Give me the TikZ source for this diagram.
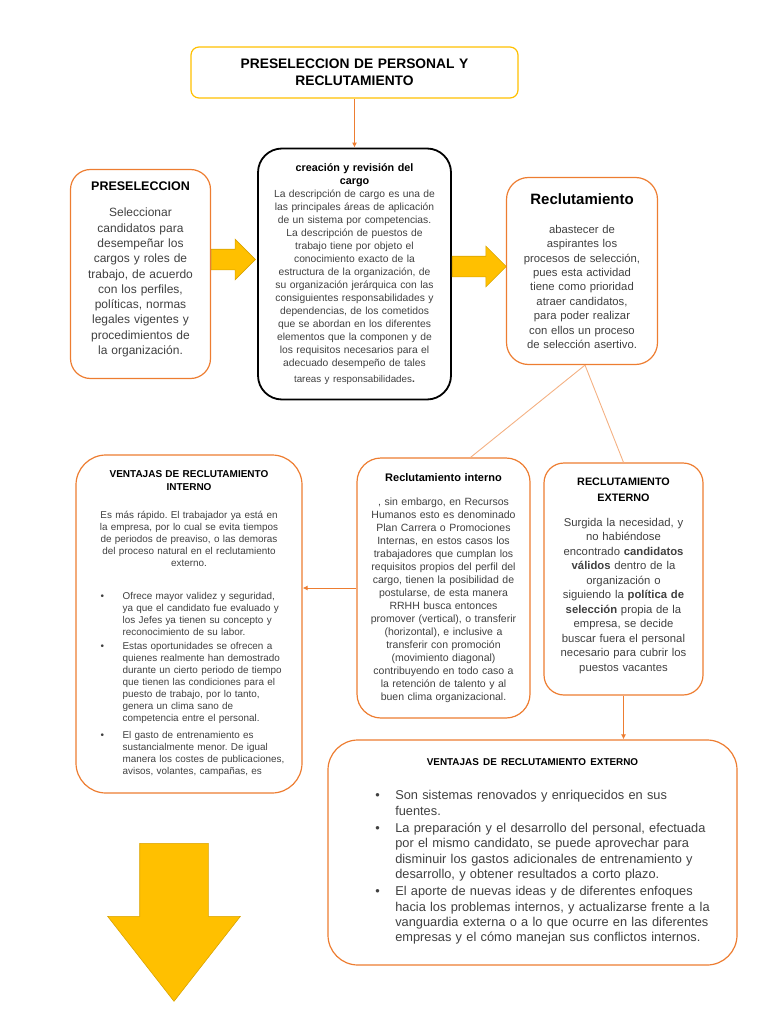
\documentclass[tikz,border=0pt]{standalone}
\usepackage{fontspec}
\setmainfont{Liberation Sans}
\usetikzlibrary{positioning,shapes.arrows,arrows.meta,calc}

\definecolor{boxorange}{HTML}{ED7D31}
\definecolor{linkorange}{HTML}{F4B183}
\definecolor{titlegold}{HTML}{FFC000}
\definecolor{arrowgold}{HTML}{FFC000}
\definecolor{arrowedge}{HTML}{D9A300}
\definecolor{bodygray}{HTML}{404040}

\newcommand{\fsz}[2]{\fontsize{#1}{#2}\selectfont}
\frenchspacing

\begin{document}
\begin{tikzpicture}[x=1pt, y=-1pt,
  titlenode/.style={rectangle, rounded corners=8pt, draw=titlegold, line width=1.2pt, minimum width=327pt, minimum height=51pt, text width=320pt, align=center, inner sep=3pt},
  orangenode/.style={rectangle, rounded corners=20pt, draw=boxorange, line width=1.2pt, align=center, inner sep=3pt, text=bodygray},
  blacknode/.style={rectangle, rounded corners=24pt, draw=black, line width=1.8pt, align=center, inner sep=3pt, text=bodygray},
  yellowarrow/.style={single arrow, draw=arrowedge, fill=arrowgold, line width=0.6pt, inner xsep=0pt, inner ysep=10pt, single arrow head extend=10pt},
  link/.style={draw=linkorange, line width=0.9pt},
  pointer/.style={draw=boxorange, line width=1pt, -{Latex[length=5pt,width=5pt]}}
  ]
  \useasboundingbox (0,0) rectangle (768,1024);

  % Title and first row
  \node[titlenode, font=\fsz{13.8}{17}\bfseries]  (title)  at (354.5,72.5)
    {PRESELECCION DE PERSONAL Y\\RECLUTAMIENTO};
  \node[blacknode, minimum width=193pt, minimum height=251pt, text width=186pt, font=\fsz{10.3}{13}]  (cargo)  [below=49pt of title]
    {{\fsz{10.8}{13}\bfseries\color{black}creación y revisión del\\cargo}\\
     La descripción de cargo es una de\\las principales áreas de aplicación\\de un sistema por competencias.\\
     La descripción de puestos de\\trabajo tiene por objeto el\\conocimiento exacto de la\\
     estructura de la organización, de\\su organización jerárquica con las\\consiguientes responsabilidades y\\
     dependencias, de los cometidos\\que se abordan en los diferentes\\elementos que la componen y de\\
     los requisitos necesarios para el\\adecuado desempeño de tales\\[3pt]
     {\fsz{9.8}{13}tareas y responsabilidades}\textbf{.}};
  \node[orangenode, minimum width=140pt, minimum height=209pt, text width=133pt, font=\fsz{12}{15.3}]  (prese)  [left=46pt of cargo]
    {{\fsz{12.5}{15.3}\bfseries\color{black}PRESELECCION}\\[10.7pt]
     Seleccionar\\candidatos para\\desempeñar los\\cargos y roles de\\trabajo, de acuerdo\\
     con los perfiles,\\políticas, normas\\legales vigentes y\\procedimientos de\\la organización.\\[-4pt]\mbox{}};
  \node[orangenode, rounded corners=22pt, minimum width=151pt, minimum height=187pt, text width=144pt, font=\fsz{11.3}{14.4}]  (recl)  [right=54pt of cargo, yshift=3pt]
    {{\fsz{15}{18}\bfseries\color{black}Reclutamiento}\\[14.5pt]
     abastecer de\\aspirantes los\\procesos de selección,\\pues esta actividad\\tiene como prioridad\\
     atraer candidatos,\\para poder realizar\\con ellos un proceso\\de selección asertivo.};

  % Block arrows
  \node[yellowarrow, minimum height=44pt, anchor=tail, yshift=14.5pt]  (arrowA)  at (prese.east) {};
  \node[yellowarrow, minimum height=54pt, anchor=tail, yshift=7.5pt]   (arrowB)  at (cargo.east) {};

  % Second row
  \node[orangenode, rounded corners=30pt, minimum width=226pt, minimum height=338pt, text width=216pt, font=\fsz{9.9}{12}]  (vinterno)  at (189,624)
    {{\fsz{10}{12}\bfseries\color{black}VENTAJAS DE RECLUTAMIENTO\\[1pt]INTERNO}\\[16pt]
     Es más rápido. El trabajador ya está en\\la empresa, por lo cual se evita tiempos\\
     de periodos de preaviso, o las demoras\\del proceso natural en el reclutamiento\\externo.\\[21pt]
     \hspace*{7pt}\begin{tabular}[t]{@{}p{22pt}@{}l@{}}
       \textbullet & Ofrece mayor validez y seguridad,\\
                   & ya que el candidato fue evaluado y\\
                   & los Jefes ya tienen su concepto y\\
                   & reconocimiento de su labor.\\[2pt]
       \textbullet & Estas oportunidades se ofrecen a\\
                   & quienes realmente han demostrado\\
                   & durante un cierto periodo de tiempo\\
                   & que tienen las condiciones para el\\
                   & puesto de trabajo, por lo tanto,\\
                   & genera un clima sano de\\
                   & competencia entre el personal.\\[5pt]
       \textbullet & El gasto de entrenamiento es\\
                   & sustancialmente menor. De igual\\
                   & manera los costes de publicaciones,\\
                   & avisos, volantes, campañas, es
     \end{tabular}};
  \node[orangenode, rounded corners=24pt, minimum width=173pt, minimum height=260pt, text width=166pt, font=\fsz{10.5}{13}]  (rinterno)  at (443.5,588)
    {{\fsz{11}{13}\bfseries\color{black}Reclutamiento interno}\\[11pt]
     , sin embargo, en Recursos\\Humanos esto es denominado\\Plan Carrera o Promociones\\Internas, en estos casos los\\
     trabajadores que cumplan los\\requisitos propios del perfil del\\cargo, tienen la posibilidad de\\
     postularse, de esta manera\\RRHH busca entonces\\promover (vertical), o transferir\\
     (horizontal), e inclusive a\\transferir con promoción\\(movimiento diagonal)\\
     contribuyendo en todo caso a\\la retención de talento y al\\buen clima organizacional.};
  \node[orangenode, minimum width=159pt, minimum height=232pt, text width=152pt, font=\fsz{11.3}{14.5}]  (rexterno)  at (623.5,579)
    {{\fsz{10.8}{14.5}\bfseries\color{black}RECLUTAMIENTO\\[1.5pt]EXTERNO}\\[10.5pt]
     Surgida la necesidad, y\\no habiéndose\\encontrado \textbf{candidatos}\\\textbf{válidos} dentro de la\\
     organización o\\siguiendo la \textbf{política de}\\\textbf{selección} propia de la\\empresa, se decide\\
     buscar fuera el personal\\necesario para cubrir los\\puestos vacantes\\[-5pt]\mbox{}};

  % Third row
  \node[orangenode, rounded corners=30pt, minimum width=409pt, minimum height=225pt, text width=400pt, font=\fsz{12.8}{15.3}]  (vexterno)  at (532.5,852.5)
    {{\fsz{9.9}{12}\bfseries\color{black}VENTAJAS DE RECLUTAMIENTO EXTERNO}\\[19pt]
     \hspace*{20pt}\begin{tabular}[t]{@{}p{20pt}@{}l@{}}
       \textbullet & Son sistemas renovados y enriquecidos en sus\\
                   & fuentes.\\[2pt]
       \textbullet & La preparación y el desarrollo del personal, efectuada\\
                   & por el mismo candidato, se puede aprovechar para\\
                   & disminuir los gastos adicionales de entrenamiento y\\
                   & desarrollo, y obtener resultados a corto plazo.\\[2pt]
       \textbullet & El aporte de nuevas ideas y de diferentes enfoques\\
                   & hacia los problemas internos, y actualizarse frente a la\\
                   & vanguardia externa o a lo que ocurre en las diferentes\\
                   & empresas y el cómo manejan sus conflictos internos.
     \end{tabular}};
  \node[yellowarrow, rotate=-90, anchor=tail, minimum height=158pt, inner ysep=34pt, single arrow head extend=32pt, single arrow tip angle=76]  (downarrow)  at (174,843) {};

  % Connectors
  \draw[pointer] (title.south) -- (title.south |- cargo.north);
  \draw[link] ($(recl.south)+(3,0)$) -- ($(rinterno.north)+(27,0)$);
  \draw[link] ($(recl.south)+(3,0)$) -- (rexterno.north);
  \draw[pointer] (rinterno.west) -- (rinterno.west -| vinterno.east);
  \draw[pointer] (rexterno.south) -- (rexterno.south |- vexterno.north);
\end{tikzpicture}
\end{document}
